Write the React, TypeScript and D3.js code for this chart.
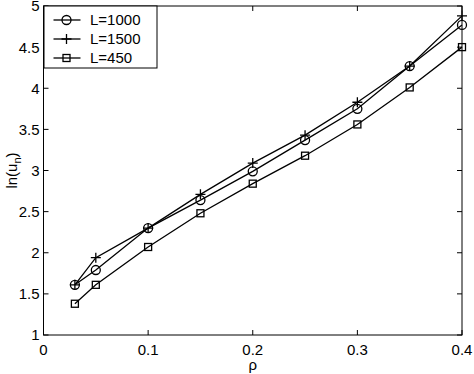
import React, { useEffect, useRef } from 'react'
import * as d3 from 'd3'

const rho = [0.03, 0.05, 0.1, 0.15, 0.2, 0.25, 0.3, 0.35, 0.4]
const seriesL1000 = [1.61, 1.79, 2.3, 2.64, 2.99, 3.37, 3.75, 4.27, 4.77]
const seriesL1500 = [1.61, 1.94, 2.3, 2.71, 3.09, 3.43, 3.83, 4.27, 4.88]
const seriesL450 = [1.38, 1.61, 2.07, 2.48, 2.84, 3.18, 3.56, 4.01, 4.5]
const seriesNames = ['L=1000', 'L=1500', 'L=450']
const markerKinds = ['circle', 'plus', 'square']
const xTicks = [0, 0.1, 0.2, 0.3, 0.4]
const yTicks = [1, 1.5, 2, 2.5, 3, 3.5, 4, 4.5, 5]

const width = 474
const height = 374
const margin = { top: 6, right: 12, bottom: 39, left: 43.5 }
const font = 'Liberation Sans, Arial, Helvetica, sans-serif'

const drawMarker = (
  g: d3.Selection<SVGGElement, unknown, null, undefined>,
  kind: string,
  x: number,
  y: number,
) => {
  if (kind === 'circle') {
    g.append('circle').attr('cx', x).attr('cy', y).attr('r', 4.5)
      .attr('fill', 'none').attr('stroke', '#000').attr('stroke-width', 1.3)
  } else if (kind === 'square') {
    g.append('rect').attr('x', x - 3.5).attr('y', y - 3.5).attr('width', 7).attr('height', 7)
      .attr('fill', 'none').attr('stroke', '#000').attr('stroke-width', 1.3)
  } else {
    g.append('path').attr('d', `M${x - 5},${y}H${x + 5}M${x},${y - 5}V${y + 5}`)
      .attr('stroke', '#000').attr('stroke-width', 1.3)
  }
}

const App: React.FC = () => {
  const svgRef = useRef<SVGSVGElement>(null)

  useEffect(() => {
    if (!svgRef.current) return
    const svg = d3.select(svgRef.current)
    svg.selectAll('*').remove()

    const w = width - margin.left - margin.right
    const h = height - margin.top - margin.bottom

    const x = d3.scaleLinear().domain([0, 0.4]).range([0, w])
    const y = d3.scaleLinear().domain([1, 5]).range([h, 0])

    const g = svg.append('g').attr('transform', `translate(${margin.left},${margin.top})`)

    // frame
    g.append('rect').attr('width', w).attr('height', h)
      .attr('fill', 'none').attr('stroke', '#000').attr('stroke-width', 1)

    const tickLen = 5
    // ticks inward on all four sides
    xTicks.forEach((t) => {
      const px = x(t)
      g.append('line').attr('x1', px).attr('x2', px).attr('y1', h).attr('y2', h - tickLen).attr('stroke', '#000')
      g.append('line').attr('x1', px).attr('x2', px).attr('y1', 0).attr('y2', tickLen).attr('stroke', '#000')
      g.append('text').attr('x', px).attr('y', h + 20).attr('text-anchor', 'middle')
        .attr('font-family', font).attr('font-size', 15).text(String(t))
    })
    yTicks.forEach((t) => {
      const py = y(t)
      g.append('line').attr('x1', 0).attr('x2', tickLen).attr('y1', py).attr('y2', py).attr('stroke', '#000')
      g.append('line').attr('x1', w).attr('x2', w - tickLen).attr('y1', py).attr('y2', py).attr('stroke', '#000')
      g.append('text').attr('x', -4).attr('y', py).attr('dy', '0.36em').attr('text-anchor', 'end')
        .attr('font-family', font).attr('font-size', 15).text(String(t))
    })

    // axis labels
    svg.append('text').attr('x', margin.left + x(0.2)).attr('y', 370).attr('text-anchor', 'middle')
      .attr('font-family', font).attr('font-size', 15).text('ρ')
    const yl = svg.append('text')
      .attr('transform', `translate(17,${margin.top + h / 2}) rotate(-90)`)
      .attr('text-anchor', 'middle').attr('font-family', font).attr('font-size', 15)
    yl.append('tspan').text('ln(u')
    yl.append('tspan').attr('font-size', 11).attr('dy', 4).text('n')
    yl.append('tspan').attr('dy', -4).text(')')

    const allSeries = [seriesL1000, seriesL1500, seriesL450]
    const line = d3.line<number>().x((_, i) => x(rho[i])).y((d) => y(d))

    allSeries.forEach((vals, si) => {
      g.append('path').attr('d', line(vals) as string)
        .attr('fill', 'none').attr('stroke', '#000').attr('stroke-width', 1.3)
      const mg = g.append('g')
      vals.forEach((v, i) => drawMarker(mg, markerKinds[si], x(rho[i]), y(v)))
    })

    // legend
    const lg = g.append('g')
    lg.append('rect').attr('x', 0.5).attr('y', 0).attr('width', 113).attr('height', 62)
      .attr('fill', '#fff').attr('stroke', '#000').attr('stroke-width', 1)
    seriesNames.forEach((name, i) => {
      const ly = 14 + i * 19
      lg.append('line').attr('x1', 10).attr('x2', 37).attr('y1', ly).attr('y2', ly)
        .attr('stroke', '#000').attr('stroke-width', 1.3)
      drawMarker(lg as any, markerKinds[i], 23, ly)
      lg.append('text').attr('x', 46.5).attr('y', ly).attr('dy', '0.36em')
        .attr('font-family', font).attr('font-size', 15).text(name)
    })
  }, [])

  return (
    <div style={{ position: 'absolute', left: 0, top: 0 }}>
      <svg ref={svgRef} width={width} height={height} style={{ display: 'block', background: '#fff' }} />
    </div>
  )
}

export default App
